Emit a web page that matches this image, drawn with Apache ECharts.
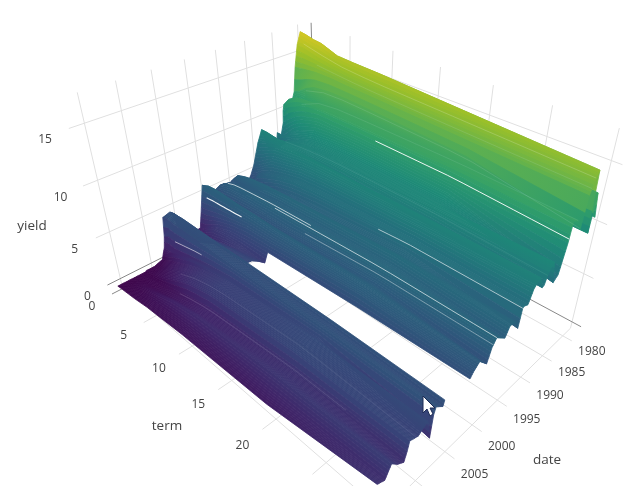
<!DOCTYPE html><html><body style="margin:0;background:#fff"><div id="c" style="width:632px;height:486px"></div>
<script src="https://cdn.jsdelivr.net/npm/echarts@6/dist/echarts.min.js"></script>
<script>
const terms=[0.25,1,2,3,5,7,10,20,30];
const dates=[1978.8,1979.6,1979.8,1980.2,1980.6,1981.3,1981.9,1982.3,1982.6,1983.4,1984.5,1984.7,1984.8,1985.6,1986.1,1986.5,1987.3,1988.0,1988.7,1989.1,1990.0,1991.1,1991.8,1992.7,1992.9,1993.2,1994.0,1995.1,1995.8,1997.6,1998.3,1998.9,2000.4,2000.6,2001.4,2001.9,2002.5,2003.5,2004.5,2005.5,
2006.2,2006.4,2007.6,2007.9,2008.2,2008.5,2008.8,2010.2,2011.5,2011.8,2012.2,2013.2,2014.1,2015.0,2016.1];
const yields=[
[12.5,12.5,11.5,11.2,11.0,10.8,10.8,10.7,10.5],
[15.0,15.0,14.2,13.8,13.4,13.2,13.0,12.9,12.8],
[8.5,9.5,9.8,9.9,10.0,10.0,10.0,9.6,9.4],
[12.5,12.8,12.5,12.4,12.2,12.1,12.0,11.6,11.5],
[17.1,17.0,16.8,16.7,16.1,16.0,15.9,15.4,14.9],
[16.0,15.9,15.7,15.5,15.2,15.0,14.8,14.5,14.2],
[13.9,14.0,14.1,14.2,14.2,14.1,14.0,13.6,13.2],
[11.5,11.8,12.4,12.8,13.0,13.0,12.9,12.4,10.5],
[11.0,11.4,12.0,12.4,12.6,12.6,12.5,12.2,10.8],
[9.2,10.0,11.0,11.6,12.0,12.1,12.1,12.0,11.6],
[10.6,11.4,11.9,12.0,12.0,12.0,12.0,12.0,11.9],
[10.0,10.6,11.0,11.4,11.7,11.7,11.7,11.5,10.8],
[8.8,9.4,10.0,10.4,10.9,10.9,10.9,10.7,10.1],
[7.0,7.6,8.6,9.2,9.9,10.1,10.2,10.0,7.6],
[8.0,8.0,8.4,8.8,9.4,9.6,9.8,9.6,7.4],
[6.5,7.0,7.8,8.4,9.0,9.3,9.4,9.3,7.2],
[6.5,7.2,8.0,8.4,8.8,9.0,9.2,9.3,9.3],
[6.8,7.6,8.2,8.5,8.8,9.0,9.1,9.2,9.0],
[8.0,8.4,8.6,8.7,8.8,8.8,8.9,8.6,7.8],
[9.0,9.0,8.9,8.8,8.7,8.6,8.5,8.0,7.7],
[7.8,8.0,8.4,8.6,8.8,9.0,9.0,9.0,8.9],
[5.7,6.0,6.6,7.2,7.6,8.0,8.2,8.4,8.3],
[4.8,5.1,5.8,6.2,6.7,7.1,7.3,7.5,7.2],
[4.0,4.7,5.8,6.2,6.8,7.2,7.4,7.6,7.4],
[3.5,4.0,5.0,5.5,6.2,6.6,6.9,7.4,7.3],
[3.0,3.3,4.2,4.8,5.6,6.0,6.3,6.8,5.6],
[3.2,3.9,4.6,5.1,5.7,6.0,6.2,6.6,6.5],
[5.2,5.9,6.2,6.4,6.6,6.7,6.8,7.1,6.6],
[5.0,5.3,5.5,5.6,5.8,6.0,6.1,6.4,5.8],
[5.2,5.7,6.0,6.1,6.2,6.3,6.4,6.7,6.6],
[5.0,5.2,5.4,5.5,5.6,5.6,5.6,6.1,6.0],
[4.4,4.5,4.6,4.7,4.9,5.1,5.2,5.6,4.8],
[5.9,6.2,6.3,6.3,6.2,6.2,6.1,6.2,5.7],
[6.0,6.1,6.1,6.0,5.9,5.9,5.8,6.0,5.6],
[3.3,3.4,3.7,4.0,4.5,4.9,5.0,5.6,5.2],
[1.7,2.0,2.6,3.2,3.8,4.0,4.2,4.6,4.8],
[1.7,1.9,2.6,3.1,3.4,3.4,3.3,null,null],
[0.9,1.1,1.5,2.0,2.8,3.4,3.8,null,null],
[1.3,2.0,2.7,3.1,3.6,3.9,4.2,null,null],
[3.0,3.5,3.8,3.9,4.0,4.1,4.3,null,null],
[4.7,4.8,4.9,4.9,4.9,4.9,5.0,5.1,5.0],
[4.8,5.0,4.9,4.8,4.8,4.7,4.7,4.7,4.5],
[4.6,4.8,4.7,4.7,4.7,4.8,4.8,5.0,5.1],
[2.6,3.0,3.0,3.2,3.6,3.9,4.3,4.7,4.5],
[1.5,1.6,1.6,1.8,2.3,2.9,3.4,4.2,2.5],
[1.0,1.4,1.9,2.3,2.9,3.3,3.7,4.3,3.8],
[0.4,0.7,1.2,1.6,2.4,3.0,3.6,4.4,4.4],
[0.1,0.3,0.8,1.3,2.2,2.9,3.6,4.3,3.8],
[0.1,0.2,0.5,0.8,1.7,2.5,3.2,4.1,4.1],
[0.0,0.1,0.2,0.4,0.9,1.5,2.1,3.0,3.3],
[0.0,0.1,0.3,0.4,0.8,1.3,1.9,2.7,2.5],
[0.0,0.1,0.25,0.4,0.8,1.3,1.9,2.8,2.9],
[0.0,0.1,0.3,0.6,1.2,1.8,2.3,3.0,3.5],
[0.0,0.1,0.25,0.4,0.8,1.0,1.4,2.0,2.5],
[0.0,0.1,0.2,0.3,0.6,0.75,1.0,1.4,2.8]];
const termTicks=[0,5,10,15,20,25,30];
const dateTicks=[1980,1985,1990,1995,2000,2005,2010,2015];
const yieldTicks=[0,5,10,15];
const cracks=[[1984.75,12,30,.9,1],[1992.9,17,30,.75,.8],[1997.6,8,30,.8,.8],[1998.1,12,30,.55,.7],[1997,1,12,.85,.8],[2000.9,1,6,.95,1.1],[2007.9,2,6,.8,.7],[2012,6,25,.22,.6],[1981.1,1,30,.3,.6],[1981.6,3,30,.18,.6],[1982.45,2,30,.18,.6],[1983.4,2,30,.15,.6],[1988.3,3,30,.12,.6],[2010.5,5,30,.16,.6]];
const range={t:[-.5,30.8],d:[1978,2017],y:[-.7,17.5]};
const m=[4.47093,-6.55463,-2.91548,211.126,2.27990,1.35231,-10.5562,236.767,-0.00900864,-0.00572447,-0.00844346];
const depth=(t,d,y)=>m[8]*t+m[9]*(d-2000)+m[10]*y+1;
const P=(t,d,y)=>{const e=d-2000,w=depth(t,d,y);return[(m[0]*t+m[1]*e+m[2]*y+m[3])/w,(m[4]*t+m[5]*e+m[6]*y+m[7])/w];};
const vir=[[68,1,84],[72,40,120],[62,74,137],[49,104,142],[38,130,142],[31,158,137],[53,183,121],[109,205,89],[180,222,44],[253,231,37]];
function colorOf(y){const v=Math.max(0,Math.min(.9999,y/17.2))*(vir.length-1),i=Math.floor(v),f=v-i;const a=vir[i],b=vir[i+1],k=.85;return'rgb('+[0,1,2].map(c=>Math.round((a[c]+(b[c]-a[c])*f)*k+3)).join(',')+')';}
const strips=[];
for(let r=0;r<dates.length-1;r++){
 let n=0;while(n<terms.length&&yields[r][n]!=null&&yields[r+1][n]!=null)n++;
 const dd=dates[r+1]-dates[r],NV=Math.max(2,Math.ceil(dd*5));
 for(let j=0;j<NV;j++){const va=j/NV,vb=(j+1)/NV,da=dates[r]+dd*va,db=dates[r]+dd*vb;
  const A=[],B=[],Y=[];
  for(let c=0;c<n;c++){const ya=yields[r][c]*(1-va)+yields[r+1][c]*va,yb=yields[r][c]*(1-vb)+yields[r+1][c]*vb;A.push([terms[c],da,ya]);B.push([terms[c],db,yb]);Y.push((ya+yb)/2);}
  strips.push({A,B,Y});}
}
const yAt=(t,d)=>{let r=0;while(r<dates.length-2&&dates[r+1]<d)r++;let c=0;while(c<terms.length-2&&terms[c+1]<t)c++;const u=(t-terms[c])/(terms[c+1]-terms[c]),v=(d-dates[r])/(dates[r+1]-dates[r]);return(yields[r][c]*(1-u)+yields[r][c+1]*u)*(1-v)+(yields[r+1][c]*(1-u)+yields[r+1][c+1]*u)*v;};
const [t0,t1]=range.t,[d0,d1]=range.d,[y0,y1]=range.y;
const gl=[];const G='#e0e0e0',Z='#888';
dateTicks.forEach(d=>{gl.push([[t0,d,y0],[t0,d,y1],G]);gl.push([[t0,d,y0],[t1,d,y0],G]);});
termTicks.forEach(t=>{gl.push([[t,d0,y0],[t,d0,y1],t==0?Z:G]);gl.push([[t,d0,y0],[t,d1,y0],t==0?Z:G]);});
yieldTicks.forEach(y=>{gl.push([[t0,d0,y],[t0,d1,y],y==0?Z:G]);gl.push([[t0,d0,y],[t1,d0,y],y==0?Z:G]);});
const FONT='"Open Sans"';
const labels=[];
termTicks.slice(0,6).forEach(t=>{const p=P(t,d1,y0);labels.push([p[0]-20,p[1]+12+t*.2+(t==0?1:0),String(t),12]);});
dateTicks.forEach(d=>{const p=P(t1,d,y0);labels.push([p[0]+20,p[1]+11+(d-1980)*.18,String(d),12]);});
yieldTicks.forEach(y=>{const p=P(t0,d1,y);labels.push([p[0]-20-y*.25,p[1]+11.5,String(y),12]);});
labels.push([32,226,'yield',13.5],[167,426,'term',13.5],[547,460,'date',13.5]);
const chart=echarts.init(document.getElementById('c'),null,{renderer:'canvas'});
chart.setOption({animation:false,
 grid:{left:0,right:0,top:0,bottom:0},
 xAxis:{type:'value',min:0,max:632,show:false},yAxis:{type:'value',min:0,max:486,inverse:true,show:false},
 series:[
 {type:'custom',clip:false,silent:true,z:1,data:gl.map((_,i)=>[i,i]),renderItem:(p,api)=>{const g=gl[p.dataIndex];return{type:'polyline',shape:{points:[api.coord(P(...g[0])),api.coord(P(...g[1]))]},style:{stroke:g[2],lineWidth:1,fill:null}};}},
 {type:'custom',clip:false,silent:true,z:2,data:strips.map((_,i)=>[i,i]),renderItem:(p,api)=>{const s=strips[p.dataIndex];
   const a=s.A.map(q=>api.coord(P(...q))),b=s.B.map(q=>api.coord(P(...q)));
   const n=a.length,mid=a.map((q,i)=>[(q[0]+b[i][0])/2,(q[1]+b[i][1])/2]);
   const gx=mid[n-1][0]-mid[0][0],gy=mid[n-1][1]-mid[0][1],L=gx*gx+gy*gy;
   const stops=mid.map((q,i)=>({offset:Math.max(0,Math.min(1,((q[0]-mid[0][0])*gx+(q[1]-mid[0][1])*gy)/L)),color:colorOf(s.Y[i])}));
   const grad=new echarts.graphic.LinearGradient(mid[0][0],mid[0][1],mid[n-1][0],mid[n-1][1],stops,true);
   return{type:'polygon',shape:{points:a.concat(b.reverse())},style:{fill:grad,stroke:grad,lineWidth:.8}};}},
 {type:'custom',clip:false,silent:true,z:3,data:cracks.map((_,i)=>[i,i]),renderItem:(p,api)=>{const [d,a,b,al,lw]=cracks[p.dataIndex];const pts=[];for(let k=0;k<=12;k++){const t=a+(b-a)*k/12;pts.push(api.coord(P(t,d,yAt(t,d))));}return{type:'polyline',shape:{points:pts},style:{stroke:'rgba(255,255,255,'+al+')',lineWidth:lw,fill:null}};}},
 {type:'custom',clip:false,silent:true,z:4,data:labels.map((_,i)=>[i,i]),renderItem:(p,api)=>{const l=labels[p.dataIndex],q=api.coord([l[0],l[1]]);return{type:'text',style:{text:l[2],x:q[0],y:q[1],align:'center',verticalAlign:'middle',font:l[3]+'px '+FONT,fill:'#444'}};}}
 ],
 graphic:[{type:'polygon',z:10,shape:{points:[[423,396],[423,413],[427,409],[430,416],[433,414],[430,408],[435,408]]},style:{fill:'#fff',stroke:'#1c2a55',lineWidth:1}}]
});
</script></body></html>
